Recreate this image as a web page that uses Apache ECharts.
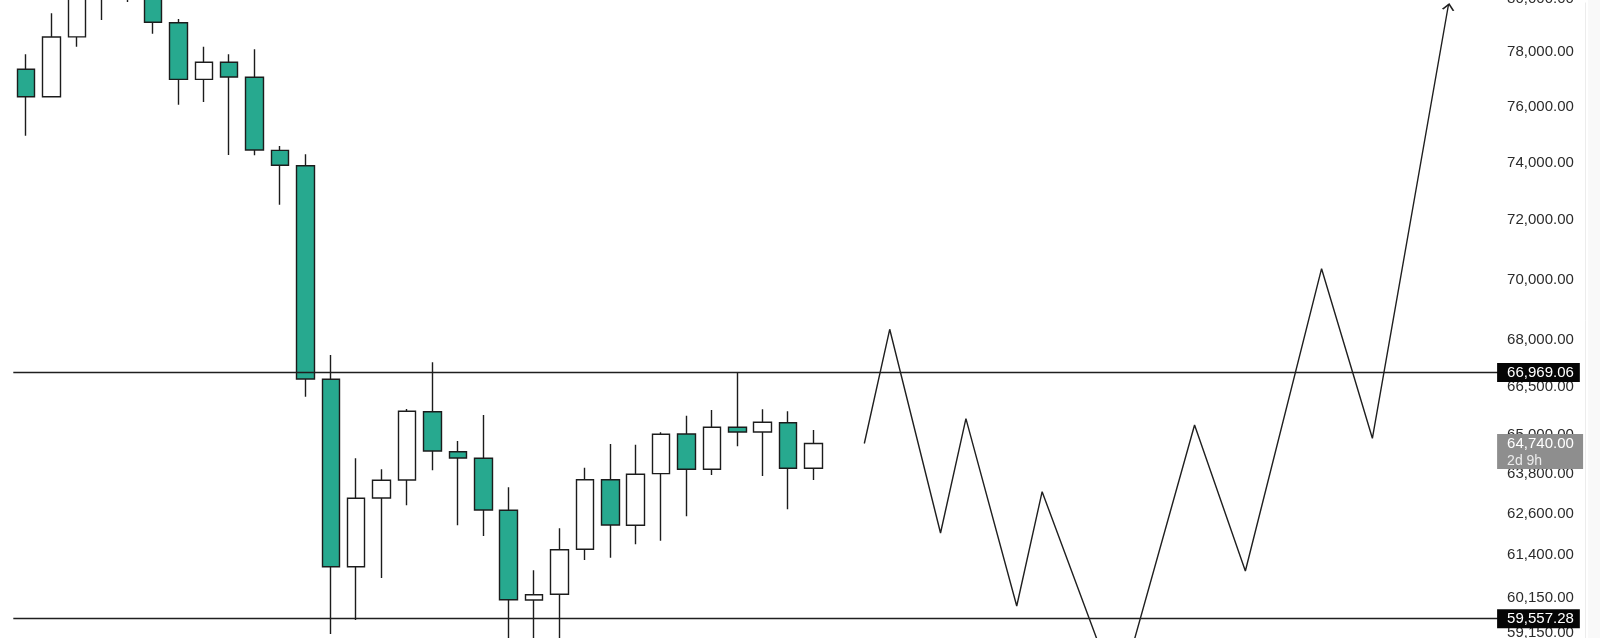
<!DOCTYPE html>
<html>
<head>
<meta charset="utf-8">
<script src="https://cdn.jsdelivr.net/npm/echarts@6/dist/echarts.min.js"></script>
<style>
html,body{margin:0;padding:0;background:#ffffff;}
#chart{width:1600px;height:638px;}
</style>
</head>
<body>
<div id="chart"></div>
<script>
// ---- data ----
const categories = Array.from({length: 59}, (_, i) => 'P' + (i + 1));

const opens  = [77367, 76364, 78570, 80400, 81000, 80500, 79103, 76999, 77626, 77073, 74439, 73896, 66749, 61051, 63081, 63625,
                65727, 64487, 64285, 62713, 60090, 60256, 61558, 63633, 62266, 63817, 65033, 63949, 65241, 65095, 65384, 63980];
const closes = [76364, 78566, 80400, 81000, 80500, 79118, 76999, 77626, 77084, 74450, 73910, 66759, 61051, 63072, 63615, 65740,
                64509, 64294, 62722, 60099, 60242, 61544, 63633, 62275, 63797, 65024, 63949, 65241, 65095, 65397, 63980, 64740];
const lows   = [74959, 76340, 78204, 79205, 79887, 78690, 76074, 76172, 74274, 74263, 72536, 66199, 59125, 59521, 60723, 62862,
                63919, 62266, 61950, 58600, 58500, 58700, 61246, 61313, 61706, 61811, 62534, 63776, 64653, 63745, 62743, 63625];
const highs  = [77922, 79458, 80900, 81400, 81600, 80800, 79243, 78204, 77922, 78108, 74592, 74298, 67526, 64285, 63949, 65812,
                67292, 64817, 65624, 63403, 60946, 62177, 63998, 64724, 64703, 65086, 65602, 65781, 66969.06, 65803, 65740, 65157];

const pathIndex  = [33, 34, 36, 37, 39, 40, 43, 46, 48, 51, 53, 56];
const pathValues = [64740, 68358, 62038, 65509, 59919, 63271, 57380, 65312, 60926, 70359, 64900, 79811];

const levelValues = [66969.06, 59557.28];
const lastPrice = 64740;
const lastPriceNote = '2d 9h';

const tickValues = [80000, 78000, 76000, 74000, 72000, 70000, 68000, 66500, 65000, 63800, 62600, 61400, 60150, 59150];
const yMin = 58732;
const yMax = 80345;

// ---- chart ----
const L = Math.log;
const fmt = v => Math.exp(v).toLocaleString('en-US', {minimumFractionDigits: 2, maximumFractionDigits: 2});
const FONT = '"Liberation Sans", Arial, Helvetica, sans-serif';

const baseY = {
  type: 'value',
  position: 'right',
  min: L(yMin),
  max: L(yMax),
  axisLine: {show: false},
  axisTick: {show: false},
  splitLine: {show: false}
};

const candleData = opens.map((o, i) => [L(o), L(closes[i]), L(lows[i]), L(highs[i])]);
const pathData = pathIndex.map((x, i) => {
  const item = {value: [x, L(pathValues[i])]};
  if (i === pathIndex.length - 1) {
    item.symbol = 'path://M0,10 L10,0 L20,10';
    item.symbolSize = [11, 6];
    item.symbolRotate = -10;
    item.symbolOffset = [0, 3];
    item.itemStyle = {color: 'none', borderColor: '#1f1f1f', borderWidth: 1.4};
  }
  return item;
});

const chart = echarts.init(document.getElementById('chart'), null, {renderer: 'canvas'});
chart.setOption({
  animation: false,
  backgroundColor: '#ffffff',
  graphic: [
    {type: 'rect', right: 0, top: 0, z: -10, silent: true,
     shape: {width: 12, height: 638}, style: {fill: '#f9f9f9'}},
    {type: 'line', right: 12, top: 0, z: -10, silent: true,
     shape: {x1: 0, y1: 0, x2: 0, y2: 638}, style: {stroke: '#ececec', lineWidth: 1}}
  ],
  grid: {left: 13.3, right: 87.9, top: -10, bottom: -10, containLabel: false, outerBoundsMode: 'none'},
  xAxis: {type: 'category', data: categories, boundaryGap: true, show: false},
  yAxis: [
    Object.assign({}, baseY, {
      z: 2,
      axisLabel: {
        customValues: tickValues.map(L), formatter: fmt, margin: -5, align: 'left',
        color: '#2b2b2b', fontSize: 15, fontFamily: FONT
      }
    }),
    Object.assign({}, baseY, {
      z: 5,
      axisLabel: {
        customValues: levelValues.map(L), formatter: fmt, margin: -15, align: 'left',
        color: '#ffffff', backgroundColor: '#050505', padding: [1, 6, 1, 10], lineHeight: 17,
        fontSize: 15, fontFamily: FONT
      }
    }),
    Object.assign({}, baseY, {
      z: 6,
      axisLabel: {
        customValues: [L(lastPrice)], margin: -15, align: 'left',
        formatter: v => '{e| }\n{a|' + fmt(v) + '}\n{b|' + lastPriceNote + '}',
        fontFamily: FONT,
        rich: {
          e: {height: 16, lineHeight: 16, fontSize: 12},
          a: {width: 70, height: 19, lineHeight: 19, padding: [0, 6, 0, 10], backgroundColor: '#8e8e8e',
              color: '#ffffff', fontSize: 15, fontFamily: FONT},
          b: {width: 70, height: 16, lineHeight: 16, padding: [0, 6, 0, 10], backgroundColor: '#8e8e8e',
              color: '#ececec', fontSize: 14, fontFamily: FONT}
        }
      }
    })
  ],
  series: [
    {
      type: 'candlestick',
      yAxisIndex: 0,
      data: candleData,
      barWidth: 18,
      itemStyle: {
        color: '#ffffff', color0: '#27a98f',
        borderColor: '#1c1c1c', borderColor0: '#1c1c1c', borderWidth: 1.4
      },
      markLine: {
        silent: true,
        precision: 12,
        symbol: ['none', 'none'],
        label: {show: false},
        lineStyle: {color: '#1f1f1f', width: 1.3, type: 'solid'},
        data: levelValues.map(v => ({yAxis: L(v)}))
      }
    },
    {
      type: 'line',
      yAxisIndex: 0,
      data: pathData,
      symbol: 'none',
      showSymbol: true,
      lineStyle: {color: '#1f1f1f', width: 1.4},
      z: 3
    }
  ]
});
</script>
</body>
</html>
